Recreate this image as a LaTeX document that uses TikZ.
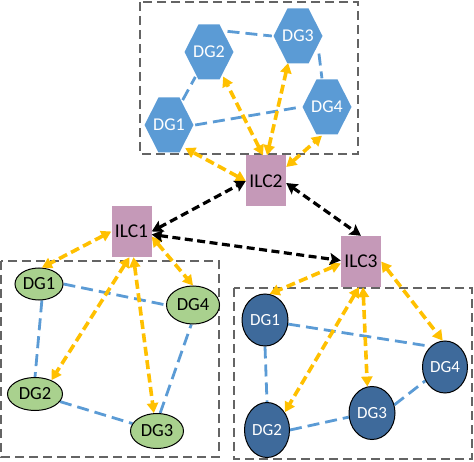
\documentclass[tikz,border=0pt]{standalone}
\usepackage{fontspec}
\setmainfont{Carlito}
\usetikzlibrary{arrows.meta,shapes.geometric}
\definecolor{hexblue}{RGB}{91,155,213}
\definecolor{ilcfill}{RGB}{197,153,184}
\definecolor{dggreen}{RGB}{169,209,142}
\definecolor{dgdark}{RGB}{62,106,155}
\definecolor{yel}{RGB}{255,192,0}
\definecolor{boxgray}{RGB}{100,100,100}
\pgfdeclarelayer{lines}
\pgfdeclarelayer{shapes}
\pgfsetlayers{lines,shapes,main}
\tikzset{
  hexnode/.style={ellipse,inner sep=0pt,minimum width=52pt,minimum height=58pt,text=white,font=\fontsize{18}{20}\selectfont},
  ilcnode/.style={rectangle,fill=ilcfill,inner sep=0pt,minimum width=40pt,minimum height=51pt,font=\fontsize{19.5}{21}\selectfont},
  greennode/.style={ellipse,draw=black,line width=1pt,fill=dggreen,inner sep=0pt,font=\fontsize{18.5}{20}\selectfont},
  darknode/.style={ellipse,draw=black,line width=1pt,fill=dgdark,text=white,inner sep=0pt,font=\fontsize{17}{19}\selectfont},
  groupbox/.style={draw=boxgray,line width=1.3pt,dash pattern=on 9pt off 5pt},
  blueline/.style={draw=hexblue,line width=2.8pt,dash pattern=on 12pt off 6pt},
  yarrow/.style={draw=yel,line width=3.6pt,dash pattern=on 9pt off 4.5pt,{Triangle[length=10pt,width=11pt,fill=yel]}-{Triangle[length=10pt,width=11pt,fill=yel]}},
  karrow/.style={draw=black,line width=3.2pt,dash pattern=on 8pt off 4.5pt,{Stealth[length=11pt,width=12pt,inset=2pt]}-{Stealth[length=11pt,width=12pt,inset=2pt]}}
}
\begin{document}
\begin{tikzpicture}[x=1pt,y=-1pt]
\useasboundingbox (0,0) rectangle (474,462);
% group boxes
\draw[groupbox] (140,2) rectangle (358,154);
\draw[groupbox] (1,261) rectangle (219,457);
\draw[groupbox] (234,288) rectangle (472,459);
% top hex DGs
\node[hexnode] (T1) at (169,125) {DG1};
\node[hexnode] (T2) at (209,52) {DG2};
\node[hexnode] (T3) at (298,36) {DG3};
\node[hexnode] (T4) at (327,107) {DG4};
\begin{pgfonlayer}{shapes}
\foreach \n in {T1,T2,T3,T4}
  \fill[hexblue] ([xshift=-24.5pt]\n.center) -- ++(14,-27.5) -- ++(21,0) -- ++(14,27.5) -- ++(-14,27.5) -- ++(-21,0) -- cycle;
\end{pgfonlayer}
% ILCs
\node[ilcnode] (I1) at (131.5,231.5) {ILC1};
\node[ilcnode] (I2) at (266,181) {ILC2};
\node[ilcnode] (I3) at (361,261.5) {ILC3};
% left green DGs
\node[greennode,minimum width=48pt,minimum height=32pt] (L1) at (39,284) {DG1};
\node[greennode,minimum width=55pt,minimum height=33pt] (L2) at (35,394) {DG2};
\node[greennode,minimum width=53pt,minimum height=35pt] (L3) at (157,431) {DG3};
\node[greennode,minimum width=53pt,minimum height=38pt] (L4) at (193,305) {DG4};
% right dark DGs
\node[darknode,minimum width=46pt,minimum height=52pt] (R1) at (265,320) {DG1};
\node[darknode,minimum width=45pt,minimum height=55pt] (R2) at (267,430) {DG2};
\node[darknode,minimum width=46pt,minimum height=53pt] (R3) at (372,413) {DG3};
\node[darknode,minimum width=45pt,minimum height=52pt] (R4) at (445,367) {DG4};
% blue links
\begin{pgfonlayer}{lines}
\draw[blueline] (T1) -- (T2);
\draw[blueline] (T2.north east) -- (T3.west);
\draw[blueline] (T3.-40) -- (T4.100);
\draw[blueline] (T1.east) -- (T4.west);
\draw[blueline] (L1.east) -- (L4.west);
\draw[blueline] (L1.-80) -- (L2.north);
\draw[blueline] (L2) -- (L3);
\draw[blueline] (L3.80) -- (L4.-95);
\draw[blueline] (R1.-10) -- (R4.125);
\draw[blueline] (R1.south) -- (R2.north);
\draw[blueline] (R2.east) -- (R3.190);
\draw[blueline] (R3.20) -- (R4.-145);
\end{pgfonlayer}
% yellow arrows
\draw[yarrow] (I2.west) -- (T1.-55);
\draw[yarrow] ([xshift=-3pt]I2.north) -- (T2.-60);
\draw[yarrow] ([xshift=1pt]I2.north) -- (T3.-110);
\draw[yarrow] ([yshift=14pt]I2.east) -- (T4.-100);
\draw[yarrow] (I1.west) -- (L1.80);
\draw[yarrow] ([yshift=-5pt]I1.east) -- (L4.north);
\draw[yarrow] ([xshift=-2pt]I1.south) -- (L2.40);
\draw[yarrow] ([xshift=2pt]I1.south) -- (L3.100);
\draw[yarrow] ([yshift=-2pt]I3.west) -- (R1.80);
\draw[yarrow] ([xshift=-2pt]I3.south) -- (R2.45);
\draw[yarrow] ([xshift=2pt]I3.south) -- (R3.100);
\draw[yarrow] (I3.east) -- (R4.95);
% black arrows
\draw[karrow] (I1.east) -- (I2.west);
\draw[karrow] ([yshift=-3pt]I1.east) -- ([yshift=1pt]I3.west);
\draw[karrow] ([yshift=-2pt]I2.east) -- (I3.north);
\end{tikzpicture}
\end{document}
